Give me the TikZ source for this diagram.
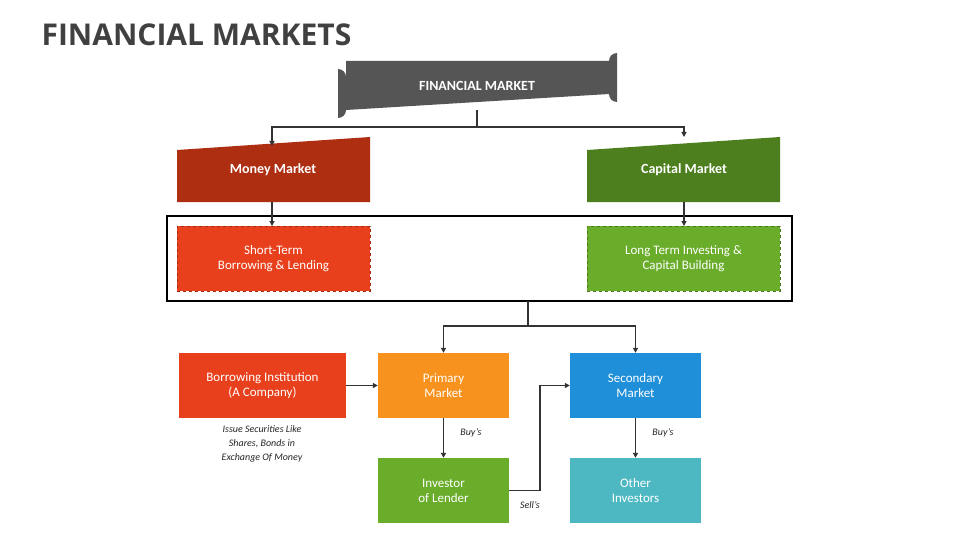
\documentclass[tikz,border=0pt]{standalone}
\usepackage{fontspec}
\setmainfont{Carlito}
\newfontfamily\titlefont{Open Sans}
\usetikzlibrary{arrows.meta}
\definecolor{fmgray}{HTML}{555555}
\definecolor{mred}{HTML}{AE2E12}
\definecolor{cgreen}{HTML}{4E7F1F}
\definecolor{sred}{HTML}{E8401C}
\definecolor{lgreen}{HTML}{6AAD2A}
\definecolor{porange}{HTML}{F7921E}
\definecolor{sblue}{HTML}{1E8FD8}
\definecolor{oteal}{HTML}{4DB8C2}
\begin{document}
\begin{tikzpicture}[x=1pt,y=-1pt,
  lbl/.style={text=white,font=\fontsize{13}{15}\selectfont,align=center},
  blbl/.style={text=white,font=\bfseries\fontsize{14}{16}\selectfont,align=center},
  conn/.style={draw=black!80,line width=1.2pt},
  arr/.style={conn,-{Triangle[length=5pt,width=5pt]}},
  note/.style={font=\itshape\fontsize{10}{14}\selectfont,text=black!85,align=center}]
\useasboundingbox (0,0) rectangle (960,540);
\fill[white] (0,0) rectangle (960,540);
\node[anchor=west,font=\titlefont\bfseries\fontsize{30}{32}\selectfont,text=black!75] (title) at (38,35) {FINANCIAL MARKETS};
% financial market notched box
\fill[fmgray] (346,61) -- (609,61) arc[start angle=180,end angle=270,radius=8] -- (617,102) arc[start angle=90,end angle=180,radius=8] -- (346,110) arc[start angle=0,end angle=90,radius=8] -- (338,69) arc[start angle=270,end angle=360,radius=8] -- cycle;
\node[blbl] (fm) at (477,85.5) {FINANCIAL MARKET};
\coordinate (fmb) at (477,110);
% trapezoids
\fill[mred] (177,150) -- (370,137) -- (370,202) -- (177,202) -- cycle;
\node[blbl] (mm) at (273,170) {Money Market};
\fill[cgreen] (587,150) -- (780,137) -- (780,202) -- (587,202) -- cycle;
\node[blbl] (cm) at (684,170) {Capital Market};
\coordinate (mmt) at (272,146); \coordinate (cmt) at (684,137);
\coordinate (mmb) at (272,202); \coordinate (cmb) at (684,202);
\draw[conn] (fmb) -- (477,127);
\draw[arr] (477,127) -| (272,146);
\draw[arr] (477,127) -| (684,137);
% outer box
\draw[line width=1.2pt] (167,216) rectangle (792,301);
\node[draw=sred!70!black,dashed,line width=1pt,fill=sred,minimum width=193pt,minimum height=65pt,lbl] (st) at (273.5,258.5) {Short-Term\\Borrowing \& Lending};
\node[draw=lgreen!70!black,dashed,line width=1pt,fill=lgreen,minimum width=193pt,minimum height=65pt,lbl] (lt) at (683.5,258.5) {Long Term Investing \&\\Capital Building};
\draw[arr] (mmb) -- (272,226);
\draw[arr] (cmb) -- (684,226);
% lower part
\node[fill=sred,minimum width=167pt,minimum height=65pt,lbl] (bi) at (262.5,385.5) {Borrowing Institution\\(A Company)};
\node[fill=porange,minimum width=131pt,minimum height=65pt,lbl] (pm) at (443.5,385.5) {Primary\\Market};
\node[fill=sblue,minimum width=131pt,minimum height=65pt,lbl] (sm) at (635.5,385.5) {Secondary\\Market};
\node[fill=lgreen,minimum width=131pt,minimum height=65pt,lbl] (il) at (443.5,490.5) {Investor\\of Lender};
\node[fill=oteal,minimum width=131pt,minimum height=65pt,lbl] (oi) at (635.5,490.5) {Other\\Investors};
\coordinate (ob) at (528,301);
\draw[conn] (ob) -- (528,326);
\draw[arr] (528,326) -| (pm.north);
\draw[arr] (528,326) -| (sm.north);
\draw[arr] (bi.east) -- (pm.west);
\draw[arr] (pm.south) -- (il.north);
\draw[arr] (sm.south) -- (oi.north);
\draw[arr] (il.east) -- (540,490.5) |- (sm.west);
\node[note] (n1) at (471,433) {Buy's};
\node[note] (n2) at (663,433) {Buy's};
\node[note] (n3) at (530,505) {Sell's};
\node[note] (n4) at (262,443.5) {Issue Securities Like\\Shares, Bonds in\\Exchange Of Money};
\end{tikzpicture}
\end{document}
